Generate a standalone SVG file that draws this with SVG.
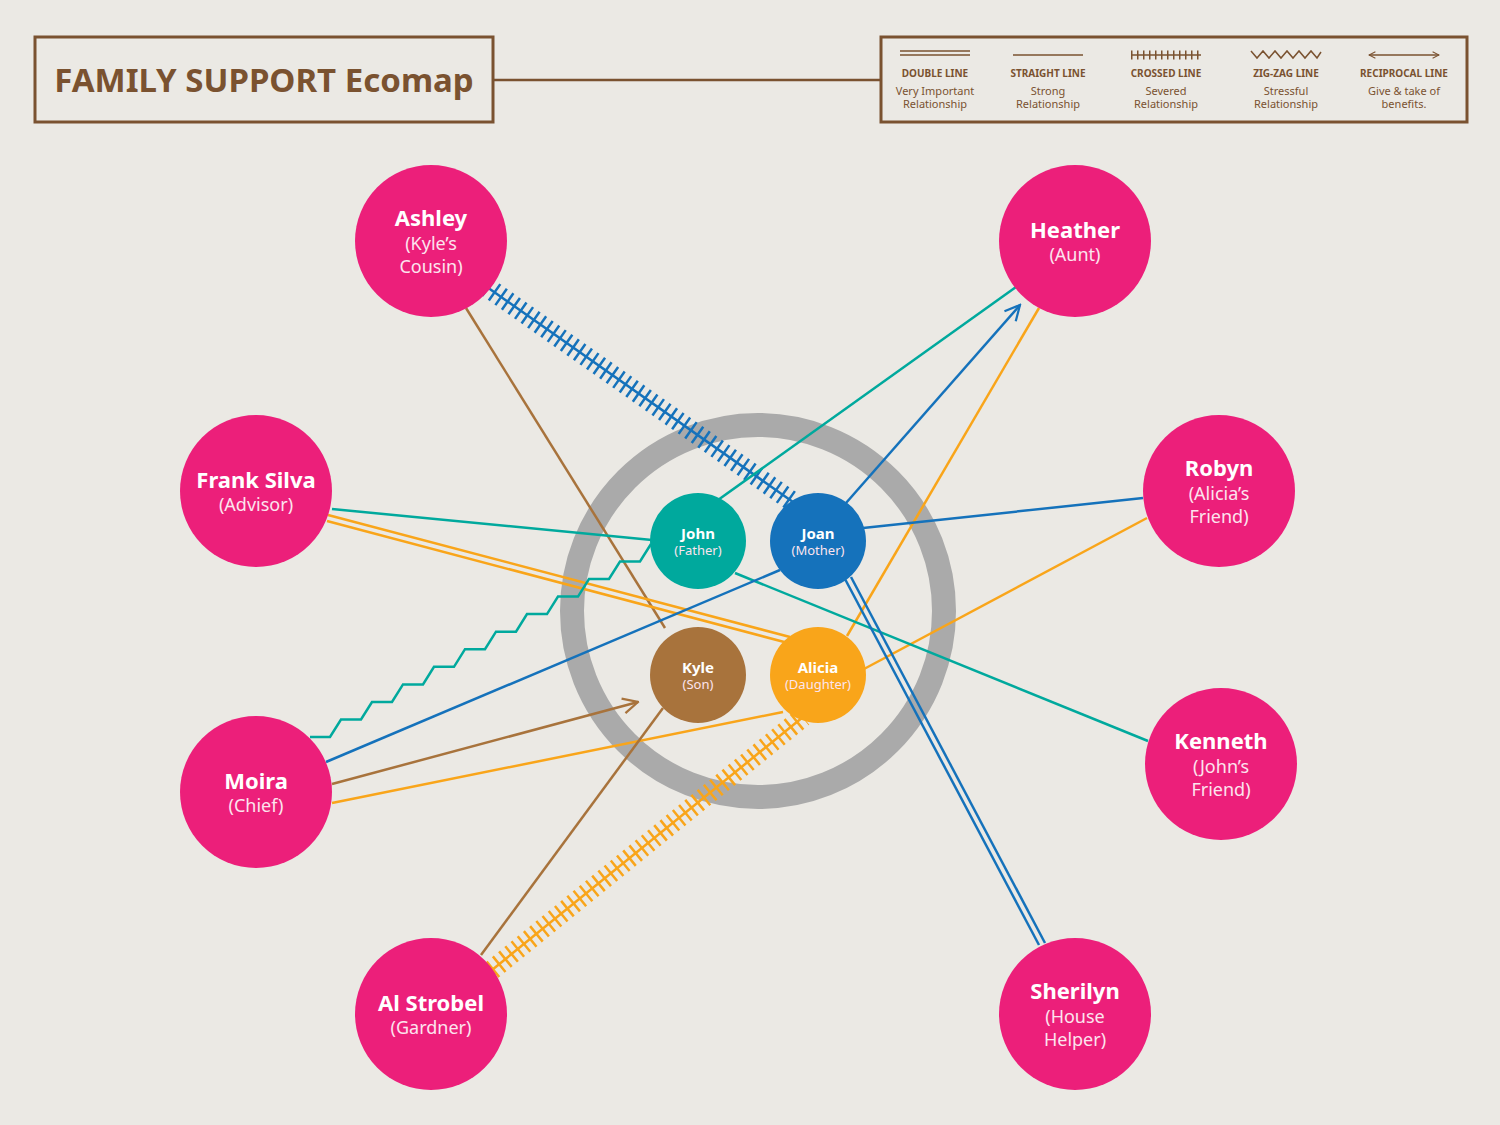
<svg xmlns="http://www.w3.org/2000/svg" width="1500" height="1125" viewBox="0 0 1500 1125">
<style>
text{font-family:"Noto Sans","Liberation Sans",sans-serif;text-anchor:middle}
.big circle{fill:#ec1f7a}
.n{font-size:22px;font-weight:bold;fill:#fff}
.s{font-size:18px;fill:#fce4ee}
.sm .n{font-size:15px}
.sm .s{font-size:13px}
.lt{font-size:10px;font-weight:bold;fill:#7a5230}
.ld{font-size:11px;fill:#7a5230}
.c line,.c polyline{fill:none;stroke-width:2.5}
.c line.tk{stroke-width:20;stroke-dasharray:2.5 5.5}
</style>
<defs>
<marker id="ab" viewBox="0 0 12 12" refX="11" refY="6" markerWidth="18" markerHeight="18" markerUnits="userSpaceOnUse" orient="auto"><path d="M1 1L11 6L1 11" fill="none" stroke="#1572bb" stroke-width="1.5"/></marker>
<marker id="ak" viewBox="0 0 12 12" refX="11" refY="6" markerWidth="18" markerHeight="18" markerUnits="userSpaceOnUse" orient="auto"><path d="M1 1L11 6L1 11" fill="none" stroke="#a8733c" stroke-width="1.5"/></marker>
<marker id="ll" viewBox="0 0 10 10" refX="1" refY="5" markerWidth="8" markerHeight="8" markerUnits="userSpaceOnUse" orient="auto"><path d="M9 1L1 5L9 9" fill="none" stroke="#7a5230" stroke-width="1.3"/></marker>
<marker id="lr" viewBox="0 0 10 10" refX="9" refY="5" markerWidth="8" markerHeight="8" markerUnits="userSpaceOnUse" orient="auto"><path d="M1 1L9 5L1 9" fill="none" stroke="#7a5230" stroke-width="1.3"/></marker>
</defs>
<rect width="1500" height="1125" fill="#ebe9e4"/>
<g id="title">
<rect x="35" y="37" width="458" height="85" fill="none" stroke="#7a5230" stroke-width="3"/>
<text x="264" y="92" style="font-size:33px;font-weight:bold;fill:#7a5230">FAMILY SUPPORT Ecomap</text>
<line x1="493" y1="80" x2="881" y2="80" stroke="#7a5230" stroke-width="2.5"/>
</g>
<g id="legend">
<rect x="881" y="37" width="586" height="85" fill="none" stroke="#7a5230" stroke-width="3"/>
<g stroke="#7a5230" stroke-width="1.5" fill="none">
<line x1="900" y1="51" x2="970" y2="51"/><line x1="900" y1="55" x2="970" y2="55"/>
<line x1="1013" y1="55" x2="1083" y2="55"/>
<line x1="1131" y1="55" x2="1201" y2="55"/>
<line x1="1131" y1="55" x2="1201" y2="55" stroke-width="9" stroke-dasharray="1.5 4.5"/>
<polyline points="1251,51 1257,58 1263,51 1269,58 1275,51 1281,58 1287,51 1293,58 1299,51 1305,58 1311,51 1317,58 1321,52"/>
<line x1="1369" y1="55" x2="1439" y2="55" marker-start="url(#ll)" marker-end="url(#lr)"/>
</g>
<text class="lt" x="935" y="77">DOUBLE LINE</text><text class="ld" x="935" y="95">Very Important</text><text class="ld" x="935" y="108">Relationship</text>
<text class="lt" x="1048" y="77">STRAIGHT LINE</text><text class="ld" x="1048" y="95">Strong</text><text class="ld" x="1048" y="108">Relationship</text>
<text class="lt" x="1166" y="77">CROSSED LINE</text><text class="ld" x="1166" y="95">Severed</text><text class="ld" x="1166" y="108">Relationship</text>
<text class="lt" x="1286" y="77">ZIG-ZAG LINE</text><text class="ld" x="1286" y="95">Stressful</text><text class="ld" x="1286" y="108">Relationship</text>
<text class="lt" x="1404" y="77">RECIPROCAL LINE</text><text class="ld" x="1404" y="95">Give &amp; take of</text><text class="ld" x="1404" y="108">benefits.</text>
</g>
<circle id="ring" cx="758" cy="611" r="186" fill="none" stroke="#aaaaaa" stroke-width="24"/>
<g id="connectors" class="c">
<line x1="466" y1="308" x2="665" y2="628" stroke="#a8733c"/>
<line x1="487" y1="287" x2="793" y2="502" stroke="#1572bb"/>
<line class="tk" x1="487" y1="287" x2="793" y2="502" stroke="#1572bb"/>
<line x1="718" y1="500" x2="1016" y2="287" stroke="#00a99d"/>
<line x1="846" y1="503" x2="1020" y2="305" stroke="#1572bb" marker-end="url(#ab)"/>
<line x1="847" y1="636" x2="1039" y2="308" stroke="#f9a51a"/>
<line x1="332" y1="509" x2="652" y2="540" stroke="#00a99d"/>
<line x1="328" y1="515" x2="790" y2="637" stroke="#f9a51a"/>
<line x1="327" y1="521" x2="788" y2="643" stroke="#f9a51a"/>
<line x1="863" y1="528" x2="1143" y2="498" stroke="#1572bb"/>
<line x1="864" y1="669" x2="1147" y2="518" stroke="#f9a51a"/>
<line x1="735" y1="573" x2="1148" y2="741" stroke="#00a99d"/>
<line x1="845" y1="579" x2="1039" y2="945" stroke="#1572bb"/>
<line x1="851" y1="577" x2="1045" y2="943" stroke="#1572bb"/>
<polyline stroke="#00a99d" points="310,737 330,737 341,719.5 361,719.5 372,702 392,702 403,684.4 423,684.4 434,666.8 454,666.8 465,649.2 485,649.2 496,631.7 516,631.7 527,614.1 547,614.1 558,596.6 578,596.6 589,579 609,579 620,561.5 640,561.5 651,544"/>
<line x1="326" y1="762" x2="780" y2="570" stroke="#1572bb"/>
<line x1="332" y1="784" x2="638" y2="702" stroke="#a8733c" marker-end="url(#ak)"/>
<line x1="332" y1="803" x2="783" y2="712" stroke="#f9a51a"/>
<line x1="481" y1="955" x2="663" y2="708" stroke="#a8733c"/>
<line x1="492" y1="970" x2="803" y2="717" stroke="#f9a51a"/>
<line class="tk" x1="492" y1="970" x2="803" y2="717" stroke="#f9a51a"/>
</g>
<g id="john" class="sm"><circle cx="698" cy="541" r="48" fill="#00a99d"/><text class="n" x="698" y="539">John</text><text class="s" x="698" y="555">(Father)</text></g>
<g id="joan" class="sm"><circle cx="818" cy="541" r="48" fill="#1572bb"/><text class="n" x="818" y="539">Joan</text><text class="s" x="818" y="555">(Mother)</text></g>
<g id="kyle" class="sm"><circle cx="698" cy="675" r="48" fill="#a8733c"/><text class="n" x="698" y="673">Kyle</text><text class="s" x="698" y="689">(Son)</text></g>
<g id="alicia" class="sm"><circle cx="818" cy="675" r="48" fill="#f9a51a"/><text class="n" x="818" y="673">Alicia</text><text class="s" x="818" y="689">(Daughter)</text></g>
<g id="ashley" class="big"><circle cx="431" cy="241" r="76"/><text class="n" x="431" y="226">Ashley</text><text class="s" x="431" y="250">(Kyle’s</text><text class="s" x="431" y="273">Cousin)</text></g>
<g id="heather" class="big"><circle cx="1075" cy="241" r="76"/><text class="n" x="1075" y="238">Heather</text><text class="s" x="1075" y="261">(Aunt)</text></g>
<g id="frank" class="big"><circle cx="256" cy="491" r="76"/><text class="n" x="256" y="488">Frank Silva</text><text class="s" x="256" y="511">(Advisor)</text></g>
<g id="robyn" class="big"><circle cx="1219" cy="491" r="76"/><text class="n" x="1219" y="476">Robyn</text><text class="s" x="1219" y="500">(Alicia’s</text><text class="s" x="1219" y="523">Friend)</text></g>
<g id="moira" class="big"><circle cx="256" cy="792" r="76"/><text class="n" x="256" y="789">Moira</text><text class="s" x="256" y="812">(Chief)</text></g>
<g id="kenneth" class="big"><circle cx="1221" cy="764" r="76"/><text class="n" x="1221" y="749">Kenneth</text><text class="s" x="1221" y="773">(John’s</text><text class="s" x="1221" y="796">Friend)</text></g>
<g id="al" class="big"><circle cx="431" cy="1014" r="76"/><text class="n" x="431" y="1011">Al Strobel</text><text class="s" x="431" y="1034">(Gardner)</text></g>
<g id="sherilyn" class="big"><circle cx="1075" cy="1014" r="76"/><text class="n" x="1075" y="999">Sherilyn</text><text class="s" x="1075" y="1023">(House</text><text class="s" x="1075" y="1046">Helper)</text></g>
</svg>
